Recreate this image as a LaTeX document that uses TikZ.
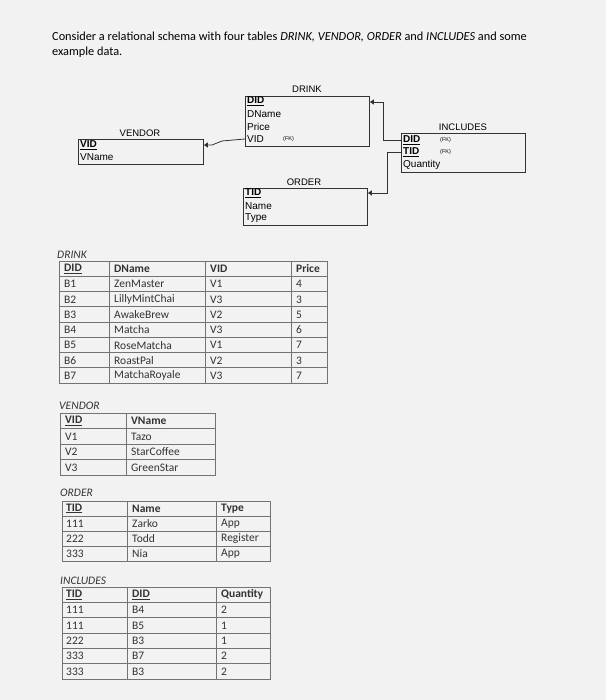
\documentclass[tikz,border=0pt]{standalone}
\usepackage{fontspec}
\setmainfont{Carlito}
\newfontfamily\dsans{Liberation Sans}
\begin{document}
\begin{tikzpicture}[x=1pt,y=-1pt,
  erbox/.style={draw=black!80,line width=0.9pt,anchor=north west,inner sep=0pt},
  fld/.style={anchor=west,inner sep=0pt,font=\dsans\fontsize{10}{11}\selectfont},
  key/.style={fld,font=\dsans\bfseries\fontsize{10}{11}\selectfont},
  fk/.style={anchor=west,inner sep=0pt,font=\dsans\fontsize{5.5}{6}\selectfont},
  ttl/.style={inner sep=0pt,font=\dsans\fontsize{9.5}{10}\selectfont},
  conn/.style={draw=black!80,line width=0.8pt,-{Triangle[length=4pt,width=5pt]}},
  grid/.style={draw=black!55,line width=0.6pt},
  cell/.style={anchor=west,inner sep=0pt,font=\fontsize{11.5}{12}\selectfont,text=black!80},
  hcell/.style={cell,font=\bfseries\fontsize{11.5}{12}\selectfont},
  tlab/.style={anchor=west,inner sep=0pt,font=\itshape\fontsize{11.5}{12}\selectfont,text=black!80}]
\usetikzlibrary{arrows.meta}
\fill[black!5] (0,0) rectangle (606,700);
\node[anchor=west,inner sep=0pt,font=\fontsize{12.3}{14}\selectfont] (t1) at (52,37) {Consider a relational schema with four tables \textit{DRINK, VENDOR, ORDER} and \textit{INCLUDES} and some};
\node[anchor=west,inner sep=0pt,font=\fontsize{12.3}{14}\selectfont] (t2) at (52,52) {example data.};
% ER diagram
\node[erbox,minimum width=124pt,minimum height=50pt] (drink) at (245,96) {};
\node[ttl] (drinkT) at (307,89) {DRINK};
\node[key] (d1) at (247,101.5) {\underline{DID}};
\node[fld] (d2) at (247,114) {DName};
\node[fld] (d3) at (247,126.5) {Price};
\node[fld] (d4) at (247,139) {VID};
\node[fk] (d5) at (283,139) {(FK)};
\node[erbox,minimum width=125pt,minimum height=25pt] (vendor) at (78,139) {};
\node[ttl] (vendorT) at (140,133) {VENDOR};
\node[key] (v1) at (80,145) {\underline{VID}};
\node[fld] (v2) at (80,157) {VName};
\node[erbox,minimum width=124pt,minimum height=39pt] (incl) at (401,133) {};
\node[ttl] (inclT) at (463,127) {INCLUDES};
\node[key] (i1) at (403,140) {\underline{DID}};
\node[fk] (i1f) at (440,140) {(FK)};
\node[key] (i2) at (403,152) {\underline{TID}};
\node[fk] (i2f) at (440,152) {(FK)};
\node[fld] (i3) at (403,165) {Quantity};
\node[erbox,minimum width=124pt,minimum height=37pt] (order) at (243,188) {};
\node[ttl] (orderT) at (304,182) {ORDER};
\node[key] (o1) at (245,193.5) {\underline{TID}};
\node[fld] (o2) at (245,206) {Name};
\node[fld] (o3) at (245,218) {Type};
\coordinate (c1) at (222,141);
\coordinate (c2) at (212,145);
\draw[conn] (drink.west |- d4) -- (c1) -- (c2) -- (vendor.east |- c2);
\draw[conn] (incl.west |- i1) -- (383,140) -- (383,102) -- (drink.east |- 0,102);
\draw[conn] (incl.west |- i2) -- (387,152) -- (387,193) -- (order.east |- 0,193);
% DRINK table
\node[tlab] (lab1) at (57,255) {DRINK};
\draw[grid] (59,261) rectangle (327,383);
\foreach \x in {109,205,291} \draw[grid] (\x,261) -- (\x,383);
\foreach \i in {1,...,7} \draw[grid] (59,261+15.25*\i) -- (327,261+15.25*\i);
\foreach \a/\b/\c/\d [count=\i from 0] in {\underline{DID}/DName/VID/Price,B1/ZenMaster/V1/4,B2/LillyMintChai/V3/3,B3/AwakeBrew/V2/5,B4/Matcha/V3/6,B5/RoseMatcha/V1/7,B6/RoastPal/V2/3,B7/MatchaRoyale/V3/7}{
  \ifnum\i=0 \def\st{hcell}\else\def\st{cell}\fi
  \node[\st] (da\i) at (64,269+15.25*\i) {\a};
  \node[\st] (db\i) at (114,269+15.25*\i) {\b};
  \node[\st] (dc\i) at (210,269+15.25*\i) {\c};
  \node[\st] (dd\i) at (296,269+15.25*\i) {\d};}
% VENDOR table
\node[tlab] (lab2) at (59,406) {VENDOR};
\draw[grid] (60,413) rectangle (215,475);
\draw[grid] (126,413) -- (126,475);
\foreach \i in {1,...,3} \draw[grid] (60,413+15.5*\i) -- (215,413+15.5*\i);
\foreach \a/\b [count=\i from 0] in {\underline{VID}/VName,V1/Tazo,V2/StarCoffee,V3/GreenStar}{
  \ifnum\i=0 \def\st{hcell}\else\def\st{cell}\fi
  \node[\st] (va\i) at (65,421+15.5*\i) {\a};
  \node[\st] (vb\i) at (131,421+15.5*\i) {\b};}
% ORDER table
\node[tlab] (lab3) at (60,493) {ORDER};
\draw[grid] (62,501) rectangle (270,561);
\foreach \x in {127,216} \draw[grid] (\x,501) -- (\x,561);
\foreach \i in {1,...,3} \draw[grid] (62,501+15*\i) -- (270,501+15*\i);
\foreach \a/\b/\c [count=\i from 0] in {\underline{TID}/Name/Type,111/Zarko/App,222/Todd/Register,333/Nia/App}{
  \ifnum\i=0 \def\st{hcell}\else\def\st{cell}\fi
  \node[\st] (oa\i) at (66,508.5+15*\i) {\a};
  \node[\st] (ob\i) at (132,508.5+15*\i) {\b};
  \node[\st] (oc\i) at (221,508.5+15*\i) {\c};}
% INCLUDES table
\node[tlab] (lab4) at (60,581) {INCLUDES};
\draw[grid] (62,587) rectangle (270,679);
\foreach \x in {127,216} \draw[grid] (\x,587) -- (\x,679);
\foreach \i in {1,...,5} \draw[grid] (62,587+15.33*\i) -- (270,587+15.33*\i);
\foreach \a/\b/\c [count=\i from 0] in {\underline{TID}/\underline{DID}/Quantity,111/B4/2,111/B5/1,222/B3/1,333/B7/2,333/B3/2}{
  \ifnum\i=0 \def\st{hcell}\else\def\st{cell}\fi
  \node[\st] (ia\i) at (66,594.7+15.33*\i) {\a};
  \node[\st] (ib\i) at (132,594.7+15.33*\i) {\b};
  \node[\st] (ic\i) at (221,594.7+15.33*\i) {\c};}
\end{tikzpicture}
\end{document}
